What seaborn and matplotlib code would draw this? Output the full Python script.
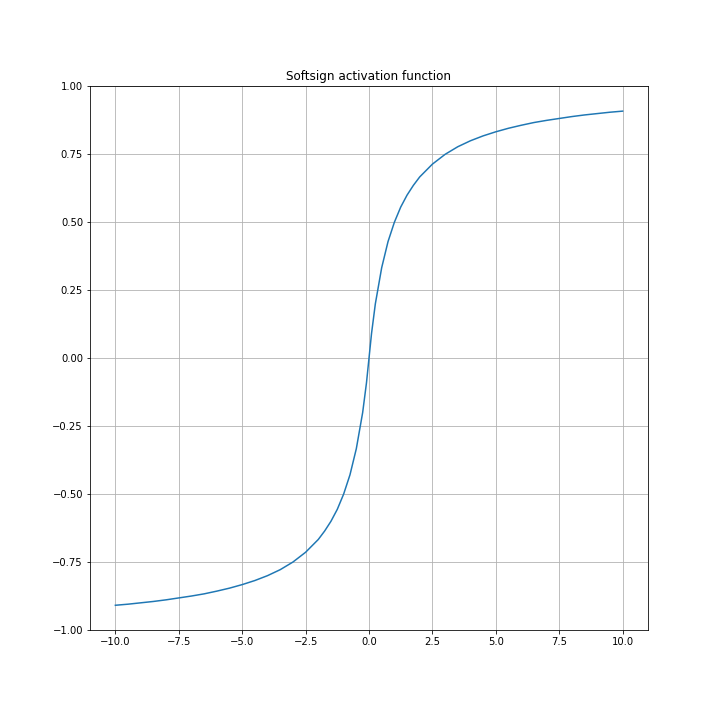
import matplotlib
matplotlib.use("Agg")
import matplotlib.pyplot as plt
import seaborn as sns
import pandas as pd

x_pos = [0.0, 0.1, 0.25, 0.5, 0.75, 1.0, 1.25, 1.5, 1.75, 2.0, 2.5, 3.0, 3.5, 4.0, 4.5,
         5.0, 5.5, 6.0, 6.5, 7.0, 7.5, 8.0, 8.5, 9.0, 9.5, 10.0]
y_pos = [0.0, 0.091, 0.2, 0.333, 0.429, 0.5, 0.556, 0.6, 0.636, 0.667, 0.714, 0.75, 0.778, 0.8, 0.818,
         0.833, 0.846, 0.857, 0.867, 0.875, 0.882, 0.889, 0.895, 0.9, 0.905, 0.909]
x_neg = [-10.0, -9.5, -9.0, -8.5, -8.0, -7.5, -7.0, -6.5, -6.0, -5.5, -5.0, -4.5, -4.0, -3.5, -3.0,
         -2.5, -2.0, -1.75, -1.5, -1.25, -1.0, -0.75, -0.5, -0.25, -0.1]
y_neg = [-0.909, -0.905, -0.9, -0.895, -0.889, -0.882, -0.875, -0.867, -0.857, -0.846, -0.833, -0.818,
         -0.8, -0.778, -0.75, -0.714, -0.667, -0.636, -0.6, -0.556, -0.5, -0.429, -0.333, -0.2, -0.091]

df = pd.DataFrame({"x": x_neg + x_pos, "y": y_neg + y_pos})

fig, ax = plt.subplots(figsize=(10, 10), dpi=72)
fig.subplots_adjust(bottom=0.125, top=0.88)
sns.lineplot(data=df, x="x", y="y", ax=ax, color="#1f77b4", sort=True)
ax.set_ylim(-1, 1)
ax.set_xlabel("")
ax.set_ylabel("")
ax.set_title("Softsign activation function")
ax.grid(True)
fig.savefig("out.png", dpi=72)
